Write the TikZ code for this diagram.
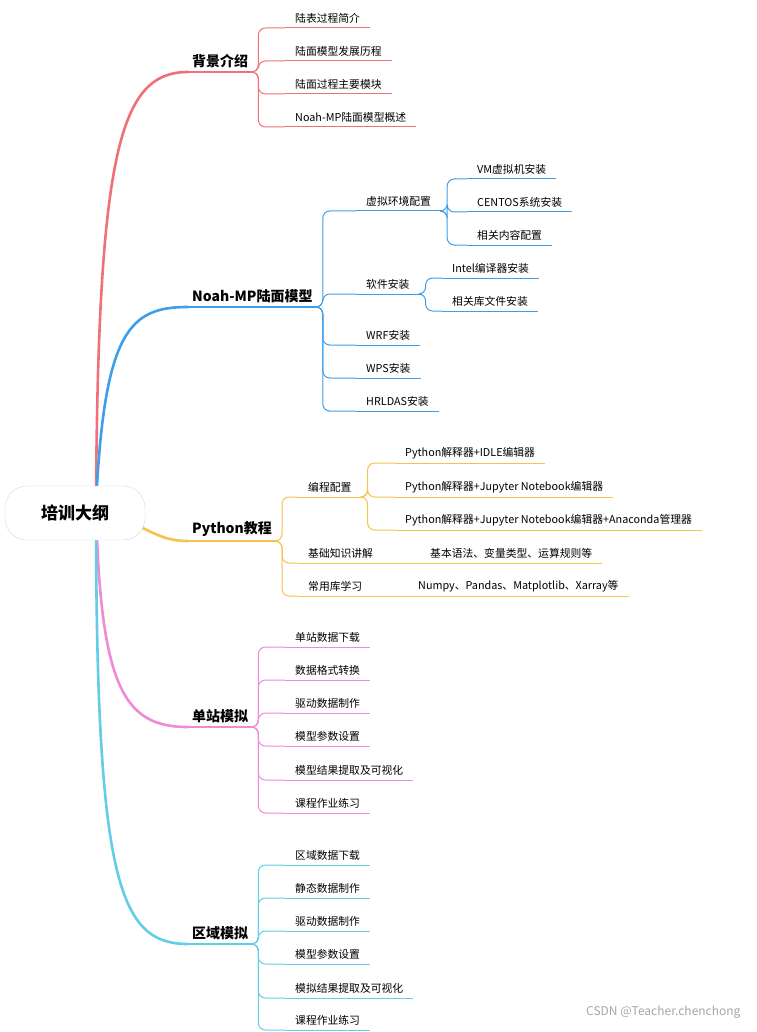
\documentclass[tikz,border=0pt]{standalone}
\usepackage{fontspec}
\setmainfont{Noto Sans CJK SC}
\usetikzlibrary{positioning}
\definecolor{redb}{HTML}{F0707A}
\definecolor{blueb}{HTML}{3D9EEB}
\definecolor{yelb}{HTML}{F5C24A}
\definecolor{pinkb}{HTML}{EE8BD4}
\definecolor{cyanb}{HTML}{62CDE6}
\tikzset{
  topic/.style = {anchor = south west, inner xsep = 10pt, inner ysep = 4pt,
    font = \fontsize{10.8}{12}\selectfont,
    append after command = {(\tikzlastnode.south west) edge [draw = #1, line width = 1pt] (\tikzlastnode.south east)}},
  main/.style = {anchor = south west, inner xsep = 4pt, inner ysep = 4pt,
    font = \fontsize{14}{16}\selectfont\bfseries,
    append after command = {(\tikzlastnode.south west) edge [draw = #1, line width = 1.4pt] (\tikzlastnode.south east)}},
  link/.style = {draw = #1, line width = 1pt, rounded corners = 7pt},
  trunk/.style = {draw = #1, line width = 2.6pt, line cap = round},
  rootbox/.style = {draw = gray!30, fill = white, rounded corners = 22pt, minimum width = 140pt,
    minimum height = 54pt, font = \fontsize{17}{19}\selectfont\bfseries},
}
\begin{document}
\begin{tikzpicture}[x = 1pt, y = -1pt]
  \useasboundingbox (0,0) rectangle (756,1032);

  \coordinate (hub) at (96,505);

  % main topics
  \node [main = redb]  (bg)  at (188,72)  {背景介绍};
  \node [main = blueb] (nm)  at (188,307) {Noah-MP陆面模型};
  \node [main = yelb]  (py)  at (188,541) {Python教程};
  \node [main = pinkb] (ss)  at (188,727) {单站模拟};
  \node [main = cyanb] (rg)  at (188,944) {区域模拟};

  \draw [trunk = redb]  (hub) .. controls (98,150) and (120,72) .. (bg.south west);
  \draw [trunk = blueb] (hub) .. controls (104,330) and (130,307) .. (nm.south west);
  \draw [trunk = yelb]  (hub) .. controls (150,530) and (160,541) .. (py.south west);
  \draw [trunk = pinkb] (hub) .. controls (100,690) and (125,727) .. (ss.south west);
  \draw [trunk = cyanb] (hub) .. controls (96,880) and (118,944) .. (rg.south west);

  % root
  \node [rootbox] (root) at (75,513) {培训大纲};

  % background
  \foreach \y/\t [count = \i] in {28/陆表过程简介, 61/陆面模型发展历程, 94/陆面过程主要模块, 127/Noah-MP陆面模型概述} {
    \node [topic = redb] (bg\i) at (285,\y) {\t};
    \draw [link = redb] (bg.south east) -- ++(6,0) |- (bg\i.south west);
  }

  % Noah-MP
  \foreach \y/\t [count = \i] in {211/虚拟环境配置, 294/软件安装, 345/WRF安装, 378/WPS安装, 411/HRLDAS安装} {
    \node [topic = blueb] (nm\i) at (356,\y) {\t};
    \draw [link = blueb] (nm.south east) -- ++(6,0) |- (nm\i.south west);
  }
  \foreach \y/\t [count = \i] in {179/VM虚拟机安装, 212/CENTOS系统安装, 245/相关内容配置} {
    \node [topic = blueb] (vm\i) at (467,\y) {\t};
    \draw [link = blueb] (nm1.south east) -- ++(6,0) |- (vm\i.south west);
  }
  \foreach \y/\t [count = \i] in {278/Intel编译器安装, 311/相关库文件安装} {
    \node [topic = blueb] (sw\i) at (442,\y) {\t};
    \draw [link = blueb] (nm2.south east) -- ++(6,0) |- (sw\i.south west);
  }

  % Python
  \foreach \y/\t [count = \i] in {497/编程配置, 563/基础知识讲解, 596/常用库学习} {
    \node [topic = yelb] (py\i) at (298,\y) {\t};
    \draw [link = yelb] (py.south east) -- ++(6,0) |- (py\i.south west);
  }
  \foreach \y/\t [count = \i] in {463/Python解释器+IDLE编辑器, 497/Python解释器+Jupyter Notebook编辑器, 530/Python解释器+Jupyter Notebook编辑器+Anaconda管理器} {
    \node [topic = yelb] (pc\i) at (395,\y) {\t};
    \draw [link = yelb] (py1.south east) -- ++(6,0) |- (pc\i.south west);
  }
  \node [topic = yelb] (pb) at (420,563) {基本语法、变量类型、运算规则等};
  \draw [link = yelb] (py2.south east) -- (pb.south west);
  \node [topic = yelb] (pl) at (408,596) {Numpy、Pandas、Matplotlib、Xarray等};
  \draw [link = yelb] (py3.south east) -- (pl.south west);

  % single site
  \foreach \y/\t [count = \i] in {647/单站数据下载, 680/数据格式转换, 713/驱动数据制作, 746/模型参数设置, 780/模型结果提取及可视化, 813/课程作业练习} {
    \node [topic = pinkb] (ss\i) at (285,\y) {\t};
    \draw [link = pinkb] (ss.south east) -- ++(6,0) |- (ss\i.south west);
  }

  % regional
  \foreach \y/\t [count = \i] in {865/区域数据下载, 898/静态数据制作, 931/驱动数据制作, 964/模型参数设置, 998/模拟结果提取及可视化, 1030/课程作业练习} {
    \node [topic = cyanb] (rg\i) at (285,\y) {\t};
    \draw [link = cyanb] (rg.south east) -- ++(6,0) |- (rg\i.south west);
  }

  \node [text = gray!70, font = \fontsize{12}{14}\selectfont, anchor = east] (mark) at (744,1012) {CSDN @Teacher.chenchong};
\end{tikzpicture}
\end{document}
